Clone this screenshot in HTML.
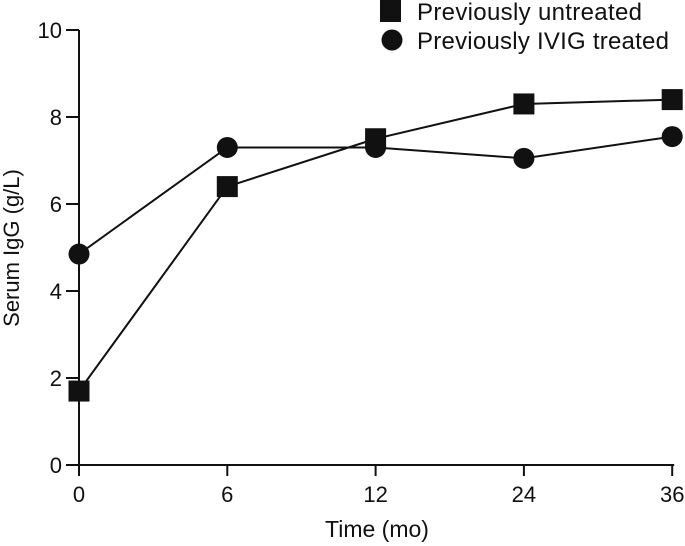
<!DOCTYPE html>
<html><head><meta charset="utf-8"><style>
body{margin:0;background:#fff;}
svg{display:block;font-family:"Liberation Sans",sans-serif;}
</style></head><body>
<svg id="chart" width="685" height="546">
<g id="axes"></g>
<g id="series"></g>
<g>
<rect x="380" y="0" width="21" height="22" fill="#111"/>
<text x="417" y="20" font-size="24" textLength="225" fill="#111">Previously untreated</text>
<circle cx="392" cy="40" r="10.5" fill="#111"/>
<text x="417" y="49" font-size="24" textLength="252" fill="#111">Previously IVIG treated</text>
</g>
<text x="377" y="537" font-size="23" text-anchor="middle" fill="#111">Time (mo)</text>
<text transform="translate(19,248) rotate(-90)" font-size="22" text-anchor="middle" fill="#111">Serum IgG (g/L)</text>
</svg>
<script>
const categories=["0","6","12","24","36"];
const untreated=[1.7,6.4,7.5,8.3,8.4];
const ivig=[4.85,7.3,7.3,7.05,7.55];
const yTicks=[0,2,4,6,8,10];
const NS="http://www.w3.org/2000/svg";
function x(i){return 79+i*148.3;}
function y(v){return 465-43.5*v;}
function mk(tag,attrs,parent){const e=document.createElementNS(NS,tag);for(const k in attrs)e.setAttribute(k,attrs[k]);parent.appendChild(e);return e;}
const axes=document.getElementById('axes'),ser=document.getElementById('series');
let l=mk('line',{x1:79,y1:y(10),x2:79,y2:y(0)+1,stroke:'#111','stroke-width':2},axes);


l=mk('line',{x1:66,y1:y(0),x2:x(4)+2,y2:y(0),stroke:'#111','stroke-width':2},axes);


yTicks.forEach(v=>{
 const t=mk('line',{x1:66,y1:y(v),x2:79,y2:y(v),stroke:'#111','stroke-width':2},axes);
 
 
 const tx=mk('text',{x:62,y:y(v)+8,'font-size':22,'text-anchor':'end',fill:'#111'},axes);
 tx.textContent=v;
 
 
});
categories.forEach((c,i)=>{
 const t=mk('line',{x1:x(i),y1:y(0),x2:x(i),y2:y(0)+11,stroke:'#111','stroke-width':2},axes);
 
 
 const tx=mk('text',{x:x(i),y:y(0)+37,'font-size':22,'text-anchor':'middle',fill:'#111'},axes);
 tx.textContent=c;
 
 
});
function line(vals,name){
 const p=mk('polyline',{points:vals.map((v,i)=>x(i)+','+y(v)).join(' '),fill:'none',stroke:'#111','stroke-width':2},ser);
 
 
}
line(ivig,'ivig-line');
line(untreated,'untreated-line');
ivig.forEach((v,i)=>{
 const c=mk('circle',{cx:x(i),cy:y(v),r:10.5,fill:'#111'},ser);
 
 
});
untreated.forEach((v,i)=>{
 const r=mk('rect',{x:x(i)-10.5,y:y(v)-10.5,width:21,height:21,fill:'#111'},ser);
 
 
});
</script>
</body></html>
